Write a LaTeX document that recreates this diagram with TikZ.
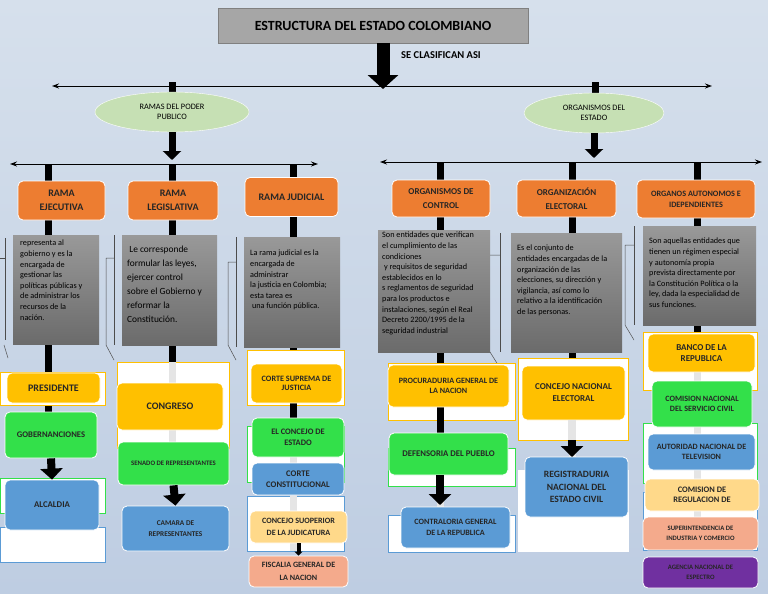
\documentclass[tikz,border=0pt]{standalone}
\usepackage{fontspec}
\setmainfont{Carlito}
\usetikzlibrary{arrows.meta,shapes.geometric}
\definecolor{bgtop}{RGB}{214,224,236}
\definecolor{bgbot}{RGB}{190,205,226}
\definecolor{org}{RGB}{237,125,49}
\definecolor{yel}{RGB}{255,192,0}
\definecolor{grn}{RGB}{51,224,74}
\definecolor{blu}{RGB}{91,155,213}
\definecolor{lor}{RGB}{255,217,138}
\definecolor{sal}{RGB}{244,170,140}
\definecolor{pur}{RGB}{112,48,160}
\definecolor{ell}{RGB}{198,224,180}
\definecolor{ttl}{RGB}{166,166,166}
\begin{document}
\begin{tikzpicture}[x=1pt,y=-1pt,
 bx/.style={rounded corners=5pt,draw=white,line width=0.8pt,align=center,text=black!85,inner sep=1pt},
 gbox/.style={align=left,font=\fontsize{8.2}{10.6}\selectfont,text=black,inner sep=0pt,anchor=north west},
 wb/.style={fill=white,line width=0.6pt},
 vbar/.style={line width=7pt,black},
 harrow/.style={line width=1pt,{Stealth[length=7pt,width=5pt]}-{Stealth[length=7pt,width=5pt]}},
 barrow/.style={line width=8pt,-{Triangle[width=22pt,length=11pt]}},
 thin/.style={black!70,line width=0.5pt}]
\newcommand\fs[2]{\bfseries\fontsize{#1}{#2}\selectfont}
\useasboundingbox (0,0) rectangle (768,594);
\shade[top color=bgtop,bottom color=bgbot] (0,0) rectangle (768,594);
% title
\node[fill=ttl,draw=black!50,minimum width=310pt,minimum height=35pt,font=\fs{14}{16}] (title) at (373,25.5) {ESTRUCTURA DEL ESTADO COLOMBIANO};
\coordinate (tarr) at (383,89);
\draw[line width=13pt,-{Triangle[width=30pt,length=14pt]}] (383,43) -- (tarr);
\node[font=\fs{10.5}{12}] (clas) at (441,55) {SE CLASIFICAN ASI};
\coordinate (hl) at (52,86); \coordinate (hr) at (712,86);
\draw[harrow] (hl) -- (hr);
\draw[vbar] (172,82) -- (172,94); \draw[vbar] (595,82) -- (595,94);
\node[ellipse,fill=ell,draw=white,minimum width=154pt,minimum height=40pt,align=center,font=\fontsize{8.3}{10}\selectfont] (rp) at (172,112) {RAMAS DEL PODER\\PUBLICO};
\node[ellipse,fill=ell,draw=white,minimum width=140pt,minimum height=40pt,align=center,font=\fontsize{8.3}{10}\selectfont] (oe) at (594,113) {ORGANISMOS DEL\\ESTADO};
\coordinate (la) at (172,160); \coordinate (ra) at (594,158);
\draw[line width=7pt,-{Triangle[width=18pt,length=9pt]}] (rp.south) -- (la);
\draw[line width=7pt,-{Triangle[width=18pt,length=9pt]}] (oe.south) -- (ra);
\coordinate (l1) at (10,164); \coordinate (l2) at (318,164);
\coordinate (r1) at (380,162); \coordinate (r2) at (762,162);
\draw[harrow] (l1) -- (l2); \draw[harrow] (r1) -- (r2);
% vertical bars
\foreach \x/\a/\b in {48/164/412,172/164/442,293/164/420,440/162/433,572/162/366,697/162/334} \draw[vbar] (\x,\a) -- (\x,\b);
% thin bracket lines
\draw[thin] (5,238) -- (5,340); \draw[thin] (0,258) -- (5,258);
\draw[thin] (114,235) -- (114,345); \draw[thin] (106,258) -- (114,258) (106,258) -- (106,345) -- (114,360);
\draw[thin] (236,237) -- (236,347); \draw[thin] (228,262) -- (236,262) (228,262) -- (228,345) -- (236,360);
\draw[thin] (500,233) -- (500,352); \draw[thin] (490,255) -- (500,255) (490,352) -- (500,368);
\draw[thin] (634,226) -- (634,325); \draw[thin] (625,245) -- (634,245) (625,245) -- (625,325) -- (634,340);
\draw[thin] (4,345) -- (8,358);
% orange headers
\node[bx,fill=org,minimum width=87pt,minimum height=39pt,font=\fs{10}{14}] (re) at (61.5,200.5) {RAMA\\EJECUTIVA};
\node[bx,fill=org,minimum width=90pt,minimum height=39pt,font=\fs{10}{14}] (rl) at (173,200.5) {RAMA\\LEGISLATIVA};
\node[bx,fill=org,minimum width=93pt,minimum height=39pt,font=\fs{10}{14}] (rj) at (291.5,197) {RAMA JUDICIAL};
\node[bx,fill=org,minimum width=98pt,minimum height=37pt,font=\fs{9}{14}] (oc) at (441,198.5) {ORGANISMOS DE\\CONTROL};
\node[bx,fill=org,minimum width=99pt,minimum height=37pt,font=\fs{9}{14}] (oel) at (566.5,198.5) {ORGANIZACIÓN\\ELECTORAL};
\node[bx,fill=org,minimum width=118pt,minimum height=38pt,font=\fs{8.2}{11}] (oa) at (696,199) {ORGANOS AUTONOMOS E\\IDEPENDIENTES};
% gray boxes
\fill[top color=black!40,bottom color=black!58] (13,235) rectangle (99,344);
\node[gbox] (ge) at (20,240) {representa al\\gobierno y es la\\encargada de\\gestionar las\\políticas públicas y\\de administrar los\\recursos de la\\nación.};
\fill[top color=black!40,bottom color=black!58] (122,235) rectangle (217,345);
\node[gbox,font=\fontsize{9.4}{14}\selectfont] (gl) at (127,246) {\ Le corresponde\\formular las leyes,\\ejercer control\\sobre el Gobierno y\\reformar la\\Constitución.};
\fill[top color=black!40,bottom color=black!58] (244,237) rectangle (340,347);
\node[gbox] (gj) at (250,250) {La rama judicial es la\\encargada de\\administrar\\la justicia en Colombia;\\esta tarea es\\\ una función pública.};
\fill[top color=black!40,bottom color=black!58] (378,230) rectangle (490,352);
\node[gbox] (gc) at (382,232) {Son entidades que verifican\\el cumplimiento de las\\condiciones\\\ y requisitos de seguridad\\establecidos en lo\\s reglamentos de seguridad\\para los productos e\\instalaciones, según el Real\\Decreto 2200/1995 de la\\seguridad industrial};
\fill[top color=black!40,bottom color=black!58] (511,233) rectangle (622,352);
\node[gbox] (gel) at (517,245) {Es el conjunto de\\entidades encargadas de la\\organización de las\\elecciones, su dirección y\\vigilancia, así como lo\\relativo a la identificación\\de las personas.};
\fill[top color=black!40,bottom color=black!58] (643,226) rectangle (756,325);
\node[gbox] (ga) at (649,238) {Son aquellas entidades que\\tienen un régimen especial\\y autonomía propia\\prevista directamente por\\la Constitución Política o la\\ley, dada la especialidad de\\sus funciones.};
% white boxes
\draw[wb,draw=yel] (0,372) rectangle (105,405);
\draw[wb,draw=grn] (0,478) rectangle (105,513);
\draw[wb,draw=blu] (0,527) rectangle (105,562);
\draw[wb,draw=yel] (117,362) rectangle (229,448);
\draw[wb,draw=yel] (247,350) rectangle (344,405);
\draw[wb,draw=grn] (247,426) rectangle (344,482);
\draw[wb,draw=blu] (247,496) rectangle (344,551);
\draw[wb,draw=yel] (388,363) rectangle (515,420);
\draw[wb,draw=grn] (388,448) rectangle (515,486);
\draw[wb,draw=blu] (388,515) rectangle (515,552);
\draw[wb,draw=yel] (518,358) rectangle (628,440);
\draw[wb,draw=white] (518,470) rectangle (628,551);
\draw[wb,draw=yel] (643,332) rectangle (757,390);
\draw[wb,draw=grn] (643,423) rectangle (757,483);
\draw[wb,draw=blu] (643,492) rectangle (757,550);
% light bars inside white boxes
\foreach \x/\a/\b in {172/362/448,293/405/551,440/407/515,572/420/470,697/372/550} \draw[line width=7pt,black!10] (\x,\a) -- (\x,\b);
\draw[vbar] (293,403) -- (293,418); \draw[vbar] (440,407) -- (440,433);
% lower nodes
\node[bx,fill=yel,minimum width=93pt,minimum height=30pt,font=\fs{10}{11}] (pres) at (53.5,388) {PRESIDENTE};
\node[bx,fill=grn,minimum width=92pt,minimum height=46pt,font=\fs{8.6}{10}] (gob) at (51,435) {GOBERNANCIONES};
\node[bx,fill=blu,minimum width=94pt,minimum height=50pt,font=\fs{8.8}{10}] (alc) at (52,505) {ALCALDIA};
\draw[barrow] (gob.south) -- (alc.north);
\node[bx,fill=yel,minimum width=106pt,minimum height=47pt,font=\fs{10}{11}] (cong) at (170,406.5) {CONGRESO};
\node[bx,fill=grn,minimum width=111pt,minimum height=43pt,font=\fs{6.8}{8}] (sen) at (173.5,463.5) {SENADO DE REPRESENTANTES};
\node[bx,fill=blu,minimum width=107pt,minimum height=45pt,font=\fs{7.3}{11}] (cam) at (175.5,528.5) {CAMARA DE\\REPRESENTANTES};
\draw[barrow] (sen.south) -- (cam.north);
\node[bx,fill=yel,minimum width=91pt,minimum height=39pt,font=\fs{8.2}{9.5}] (csj) at (296.5,383.5) {CORTE SUPREMA DE\\JUSTICIA};
\node[bx,fill=grn,minimum width=92pt,minimum height=39pt,font=\fs{8.4}{11.5}] (ce) at (298,437.5) {EL CONCEJO DE\\ESTADO};
\node[bx,fill=blu,minimum width=92pt,minimum height=32pt,font=\fs{8.6}{11.5}] (cc) at (298,479) {CORTE\\CONSTITUCIONAL};
\node[bx,fill=lor,minimum width=97pt,minimum height=32pt,font=\fs{8.1}{12.5}] (csu) at (298.5,527) {CONCEJO SUOPERIOR\\DE LA JUDICATURA};
\node[bx,fill=sal,minimum width=99pt,minimum height=31pt,font=\fs{8.1}{12.5}] (fis) at (298.5,571.5) {FISCALIA GENERAL DE\\LA NACION};
\draw[line width=4pt,-{Triangle[width=8pt,length=4pt]}] (csu.south) -- (fis.north);
\node[bx,fill=yel,minimum width=121pt,minimum height=42pt,font=\fs{8.1}{10.5}] (proc) at (448.5,386) {PROCURADURIA GENERAL DE\\LA NACION};
\node[bx,fill=grn,minimum width=119pt,minimum height=42pt,font=\fs{8.7}{10}] (def) at (448.5,454) {DEFENSORIA DEL PUEBLO};
\node[bx,fill=blu,minimum width=109pt,minimum height=41pt,font=\fs{8.1}{10.5}] (contr) at (455.5,527.5) {CONTRALORIA GENERAL\\DE LA REPUBLICA};
\coordinate (da) at (440,475);
\draw[barrow] (da) -- (440,505);
\node[bx,fill=yel,minimum width=103pt,minimum height=54pt,font=\fs{9}{12}] (cne) at (573.5,393) {CONCEJO NACIONAL\\ELECTORAL};
\node[bx,fill=blu,minimum width=103pt,minimum height=60pt,font=\fs{9.6}{12.5}] (reg) at (576.5,487) {REGISTRADURIA\\NACIONAL DEL\\ESTADO CIVIL};
\draw[line width=8pt,black!10] (572,420) -- (572,440);
\draw[barrow] (572,440) -- (572,457);
\node[bx,fill=yel,minimum width=107pt,minimum height=38pt,font=\fs{9}{11.5}] (ban) at (701.5,353) {BANCO DE LA\\REPUBLICA};
\node[bx,fill=grn,minimum width=100pt,minimum height=46pt,font=\fs{8.1}{10}] (cnsc) at (702,404) {COMISION NACIONAL\\DEL SERVICIO CIVIL};
\node[bx,fill=blu,minimum width=107pt,minimum height=36pt,font=\fs{8.1}{10}] (antv) at (701.5,452) {AUTORIDAD NACIONAL DE\\TELEVISION};
\node[bx,fill=lor,minimum width=114pt,minimum height=32pt,font=\fs{8.4}{10.5}] (crc) at (702,495) {COMISION DE\\REGULACION DE};
\node[bx,fill=sal,minimum width=115pt,minimum height=33pt,font=\fs{6.7}{10}] (sic) at (700.5,533.5) {SUPERINTENDENCIA DE\\INDUSTRIA Y COMERCIO};
\node[bx,fill=pur,minimum width=115pt,minimum height=31pt,font=\fs{6.7}{10}] (ane) at (700.5,572.5) {AGENCIA NACIONAL DE\\ESPECTRO};
\end{tikzpicture}
\end{document}
